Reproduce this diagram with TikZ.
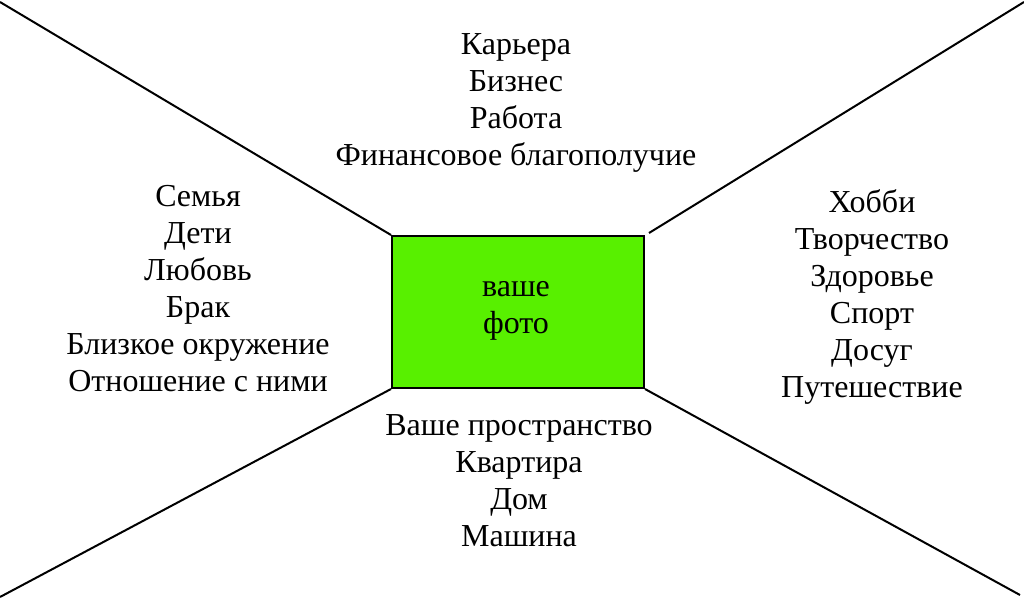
\documentclass[tikz,border=0pt]{standalone}
\usepackage{fontspec}
\setmainfont{Liberation Serif}
\definecolor{photogreen}{RGB}{88,240,0}
\tikzset{
    sector/.style = {align=center, font=\fontsize{32}{37}\selectfont},
    divider/.style = {line width=2pt, black}
}
\begin{document}
\begin{tikzpicture}[x=1pt, y=-1pt]

                    \useasboundingbox (0,0) rectangle (1024,598);

                    \node[draw, line width=2pt, fill=photogreen, minimum width=252pt, minimum height=152pt] (photo) at (518,312) {};
                    \node[sector] (photolabel) at (516,311) {ваше\\фото};

                    \coordinate (tl) at (0,2);
                    \coordinate (tr) at (1024,2);
                    \coordinate (bl) at (0,597);
                    \coordinate (br) at (1020,595);

                    \draw[divider] (tl) -- (photo.north west);
                    \draw[divider] (tr) -- ([shift={(4pt,2pt)}]photo.north east);
                    \draw[divider] (bl) -- (photo.south west);
                    \draw[divider] (br) -- (photo.south east);

                    \node[sector] (career) at (516,103) {Карьера\\Бизнес\\Работа\\Финансовое благополучие};
                    \node[sector] (family) at (198,289) {Семья\\Дети\\Любовь\\Брак\\Близкое окружение\\Отношение с ними};
                    \node[sector] (hobby) at (872,297) {Хобби\\Творчество\\Здоровье\\Спорт\\Досуг\\Путешествие};
                    \node[sector] (home) at (519,481) {Ваше пространство\\Квартира\\Дом\\Машина};
                \end{tikzpicture}
\end{document}
